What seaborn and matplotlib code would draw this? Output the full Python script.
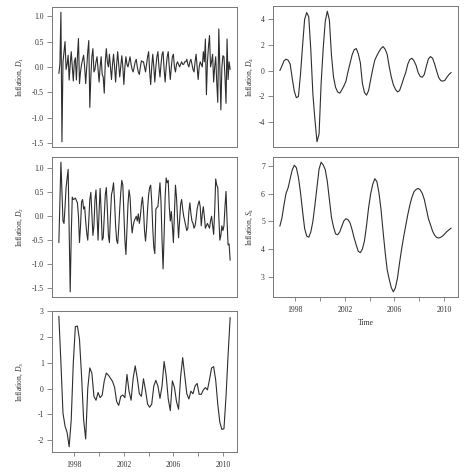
import numpy as np
import pandas as pd
import matplotlib
matplotlib.use("Agg")
import matplotlib.pyplot as plt
import seaborn as sns

# ---------------- data ----------------
START, END = 1996.75, 2010.583   # first / last observation (decimal years)

D1 = [-0.13, 0.05, 1.08, -1.48, 0.10, 0.30, 0.50, -0.05, 0.05, 0.23,
      -0.26, 0.05, 0.30, 0.00, -0.28, 0.10, 0.18, -0.26, 0.20, 0.56,
      -0.33, -0.10, 0.05, 0.14, 0.23, 0.00, -0.33, 0.00, 0.30, 0.52,
      -0.80, -0.20, 0.20, 0.36, -0.10, -0.05, 0.10, 0.20, -0.05, -0.30,
      0.00, 0.20, -0.15, -0.20, -0.52, 0.10, 0.36, 0.10, 0.00, 0.25,
      0.00, -0.25, 0.05, 0.25, 0.00, -0.30, 0.05, 0.30, 0.05, -0.20,
      0.00, 0.22, 0.00, -0.35, 0.00, 0.20, 0.05, 0.00, 0.10, 0.20,
      0.05, -0.05, -0.10, 0.00, 0.10, 0.15, 0.00, -0.10, -0.15, 0.00,
      0.12, 0.10, 0.10, 0.00, -0.10, 0.05, 0.20, 0.30, -0.10, -0.35,
      0.00, 0.25, 0.00, -0.30, 0.00, 0.20, 0.30, 0.00, -0.20, 0.05,
      0.25, 0.30, -0.05, -0.30, 0.00, 0.20, 0.30, 0.00, -0.25, 0.00,
      0.20, 0.25, 0.00, -0.10, 0.05, 0.10, 0.05, 0.00, 0.05, 0.10,
      0.05, 0.05, 0.10, 0.10, 0.15, 0.05, 0.00, 0.10, 0.15, 0.05,
      -0.05, -0.10, 0.10, 0.25, 0.00, -0.25, 0.00, 0.10, 0.05, 0.00,
      0.30, 0.10, 0.55, -0.55, 0.10, 0.40, 0.62, 0.00, 0.10, 0.25,
      -0.30, 0.00, 0.20, -0.30, -0.70, 0.75, 0.00, -0.85, 0.00, 0.22,
      0.20, -0.20, -0.72, 0.55, -0.25, 0.10, -0.05]

D2 = [-0.55, 0.30, 1.13, 0.50, -0.10, -0.15, 0.20, 0.60, 0.80, 0.98,
      -0.30, -1.58, -0.40, 0.40, 0.35, 0.36, 0.38, 0.33, 0.28, 0.00,
      -0.55, -0.20, 0.30, 0.35, 0.15, 0.20, -0.10, -0.35, -0.50, -0.10,
      0.35, 0.50, 0.05, -0.40, -0.20, 0.35, 0.55, 0.00, -0.50, 0.10,
      0.58, 0.10, -0.50, -0.45, 0.00, 0.45, 0.60, 0.15, -0.40, -0.55,
      0.00, 0.45, 0.55, 0.70, 0.30, -0.20, -0.50, -0.57, -0.25, 0.15,
      0.50, 0.75, 0.65, 0.10, -0.50, -0.80, -0.30, 0.25, 0.55, 0.40,
      -0.05, -0.35, -0.20, -0.10, -0.05, 0.00, -0.10, 0.05, -0.15, 0.00,
      0.25, 0.40, 0.15, -0.30, -0.52, -0.25, 0.15, 0.45, 0.60, 0.65,
      0.30, -0.25, -0.65, -0.78, 0.15, 0.18, 0.20, 0.45, 0.70, 0.30,
      -0.50, -1.10, -0.40, 0.40, 0.80, 0.70, 0.75, 0.20, -0.10, 0.10,
      -0.20, -0.55, 0.05, 0.65, 0.40, -0.05, -0.45, -0.10, 0.25, 0.35,
      0.15, 0.00, -0.10, -0.20, -0.30, -0.25, 0.10, 0.28, 0.05, -0.10,
      -0.15, -0.25, -0.20, -0.05, 0.15, 0.25, 0.32, 0.20, -0.20, 0.05,
      0.20, 0.00, -0.25, -0.20, -0.15, -0.20, -0.25, -0.10, 0.00, -0.20,
      -0.38, 0.10, 0.78, 0.65, 0.60, 0.00, -0.50, -0.40, -0.20, -0.30,
      -0.20, 0.20, 0.52, -0.10, -0.60, -0.58, -0.92]

D3 = [2.80, 1.00, -0.95, -1.45, -1.70, -2.25, -1.20, 1.00, 2.40, 2.42,
      1.90, 0.50, -1.20, -1.95, 0.00, 0.80, 0.60, -0.30, -0.45, -0.15,
      -0.35, -0.25, 0.30, 0.60, 0.52, 0.40, 0.28, 0.05, -0.50, -0.65,
      -0.30, -0.25, -0.35, 0.55, -0.10, -0.45, 0.40, 0.88, 0.40, -0.20,
      -0.30, 0.38, -0.07, -0.60, -0.72, -0.60, 0.10, 0.32, 0.10, -0.38,
      0.10, 1.05, 0.50, -0.40, -0.85, 0.30, 0.05, -0.50, -0.80, 0.45,
      1.20, 0.50, -0.20, -0.40, -0.10, -0.20, 0.10, 0.20, -0.22, -0.22,
      -0.05, 0.04, -0.05, 0.35, 0.80, 0.85, 0.33, -0.60, -1.30, -1.58,
      -1.55, -0.30, 1.30, 2.75]

D4 = [0.00, 0.35, 0.75, 0.88, 0.80, 0.50, -0.60, -1.60, -2.10, -2.00,
      -0.30, 1.90, 3.95, 4.48, 4.15, 1.60, -1.80, -3.80, -5.50, -4.90,
      -1.00, 1.70, 3.80, 4.58, 3.90, 1.20, -0.50, -1.30, -1.65, -1.75,
      -1.50, -1.20, -0.85, -0.10, 0.55, 1.20, 1.60, 1.70, 1.30, 0.60,
      -1.00, -1.70, -1.90, -1.55, -0.70, 0.10, 0.80, 1.15, 1.45, 1.70,
      1.85, 1.65, 1.25, 0.30, -0.50, -1.10, -1.45, -1.65, -1.55, -1.10,
      -0.60, -0.15, 0.50, 0.85, 0.95, 0.75, 0.40, -0.15, -0.45, -0.52,
      -0.30, 0.35, 0.90, 1.08, 0.95, 0.50, -0.05, -0.55, -0.78, -0.82,
      -0.75, -0.50, -0.30, -0.15]

S4 = [4.83, 5.12, 5.60, 6.02, 6.22, 6.55, 6.87, 7.04, 6.95, 6.60,
      6.05, 5.38, 4.75, 4.47, 4.43, 4.62, 5.00, 5.60, 6.25, 6.90,
      7.15, 7.05, 6.88, 6.45, 5.80, 5.15, 4.80, 4.55, 4.52, 4.62,
      4.82, 5.02, 5.10, 5.07, 4.95, 4.70, 4.40, 4.15, 3.92, 3.87,
      4.00, 4.30, 4.85, 5.50, 6.00, 6.35, 6.55, 6.45, 6.05, 5.45,
      4.65, 3.90, 3.25, 2.90, 2.60, 2.45, 2.60, 2.95, 3.50, 4.00,
      4.45, 4.85, 5.25, 5.60, 5.88, 6.08, 6.16, 6.20, 6.15, 6.02,
      5.80, 5.45, 5.10, 4.88, 4.65, 4.50, 4.42, 4.40, 4.43, 4.48,
      4.56, 4.64, 4.70, 4.76]

X_TICKS = [1998, 2000, 2002, 2004, 2006, 2008, 2010]
X_TICK_LABELS = ["1998", "", "2002", "", "2006", "", "2010"]

Y_TICKS_D12 = [-1.5, -1.0, -0.5, 0.0, 0.5, 1.0]
Y_TICKS_D3 = [-2, -1, 0, 1, 2, 3]
Y_TICKS_D4 = [-4, -2, 0, 2, 4]
Y_TICKS_S4 = [3, 4, 5, 6, 7]

# ---------------- style ----------------
sns.set_theme(style="white")
plt.rcParams.update({
    "font.family": ["Liberation Serif", "DejaVu Serif"],
    "mathtext.fontset": "custom",
    "mathtext.rm": "Liberation Serif",
    "mathtext.it": "Liberation Serif:italic",
    "axes.unicode_minus": False,
})

LINE = "#2e2e2e"
FRAME = "#777777"
TXT = "#333333"

fig = plt.figure(figsize=(4.74, 4.74), dpi=100)

W, H = 474.0, 474.0
def rect(x0, y0, x1, y1):
    return [x0 / W, 1 - y1 / H, (x1 - x0) / W, (y1 - y0) / H]

panels = [
    (D1, r"Inflation, $D_1$", rect(52, 7, 237, 147), Y_TICKS_D12, "{:.1f}", False, -0.173),
    (D2, r"Inflation, $D_2$", rect(52, 157, 237, 297), Y_TICKS_D12, "{:.1f}", False, -0.173),
    (D3, r"Inflation, $D_3$", rect(52, 311, 237, 452), Y_TICKS_D3, "{:d}", True, -0.173),
    (D4, r"Inflation, $D_4$", rect(273, 6, 458, 147), Y_TICKS_D4, "{:d}", False, -0.124),
    (S4, r"Inflation, $S_4$", rect(273, 157, 458, 297), Y_TICKS_S4, "{:d}", True, -0.124),
]

for vals, ylab, r, yt, fmt, show_x, labx in panels:
    ax = fig.add_axes(r)
    t = np.linspace(START, END, len(vals))
    df = pd.DataFrame({"time": t, "value": vals})
    sns.lineplot(data=df, x="time", y="value", ax=ax, color=LINE,
                 linewidth=0.8, estimator=None, sort=False)
    ax.margins(x=0.04, y=0.04)
    ax.autoscale_view()
    for s in ax.spines.values():
        s.set_color(FRAME)
        s.set_linewidth(0.7)
        s.set_visible(True)
    ax.set_yticks(yt)
    ax.set_yticklabels([fmt.format(v) for v in yt])
    ax.tick_params(axis="y", direction="out", length=3.3, width=0.6,
                   color=FRAME, labelsize=5.5, labelcolor=TXT, pad=2.5, left=True)
    ax.set_ylabel(ylab, fontsize=5.5, color=TXT, va="center")
    ax.yaxis.set_label_coords(labx, 0.5)
    if show_x:
        ax.set_xticks(X_TICKS)
        ax.set_xticklabels(X_TICK_LABELS)
        ax.tick_params(axis="x", direction="out", length=3.0, width=0.6,
                       color=FRAME, labelsize=5.5, labelcolor=TXT, pad=3.5, bottom=True)
    else:
        ax.set_xticks([])
    ax.set_xlabel("")

# "Time" label under the S4 panel
fig.axes[-1].set_xlabel("Time", fontsize=5.5, color=TXT, va="center")
fig.axes[-1].xaxis.set_label_coords(0.5, -0.184)

fig.savefig("out.png", dpi=100)
